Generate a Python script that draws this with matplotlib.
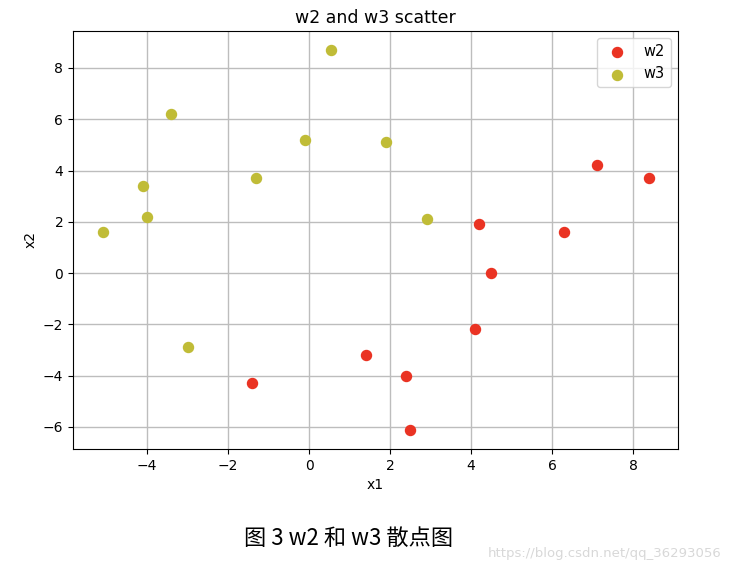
import matplotlib
matplotlib.use("Agg")
import matplotlib.pyplot as plt

# class w2 samples
w2_x1 = [7.1, -1.4, 4.5, 6.3, 4.2, 1.4, 2.4, 2.5, 8.4, 4.1]
w2_x2 = [4.2, -4.3, 0.0, 1.6, 1.9, -3.2, -4.0, -6.1, 3.7, -2.2]
# class w3 samples
w3_x1 = [-3.0, 0.54, 2.9, -0.1, -4.0, -1.3, -3.4, -4.1, -5.1, 1.9]
w3_x2 = [-2.9, 8.7, 2.1, 5.2, 2.2, 3.7, 6.2, 3.4, 1.6, 5.1]

xticks = [-4, -2, 0, 2, 4, 6, 8]
yticks = [-6, -4, -2, 0, 2, 4, 6, 8]


def main():
    fig = plt.figure(figsize=(7.3, 5.72), dpi=100)
    ax = fig.add_axes([73 / 730, 1 - 449 / 572, 605 / 730, 418 / 572])

    ax.scatter(w2_x1, w2_x2, s=52, color='#ea3323', label='w2', zorder=3)
    ax.scatter(w3_x1, w3_x2, s=52, color='#c0bc37', label='w3', zorder=3)

    ax.set_xlim(-5.83, 9.11)
    ax.set_ylim(-6.86, 9.44)
    ax.set_xticks(xticks)
    ax.set_yticks(yticks)
    ax.tick_params(labelsize=10)
    ax.grid(True, color='#bdbdbd', linewidth=1.0)
    ax.set_axisbelow(True)

    ax.set_title('w2 and w3 scatter', fontsize=12.5)
    ax.set_xlabel('x1', fontsize=10)
    ax.set_ylabel('x2', fontsize=10)
    ax.legend(loc='upper right', fontsize=10.5)

    fig.text(0.477, 1 - 538 / 572, '图 3 w2 和 w3 散点图', ha='center', va='center',
             fontsize=16, family=['Noto Sans CJK SC', 'DejaVu Sans'])
    fig.text(0.988, 1 - 553 / 572, 'https://blog.csdn.net/qq_36293056', ha='right',
             va='center', fontsize=9.5, color='#d8d8d8')

    fig.savefig('out.png', dpi=100)


if __name__ == "__main__":
    main()
